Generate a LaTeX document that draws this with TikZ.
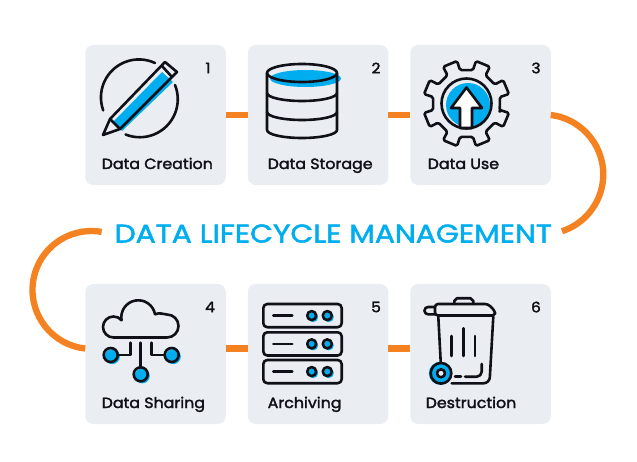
\documentclass[tikz,border=0pt]{standalone}
\usepackage{fontspec}
\setmainfont{Poppins}
\newfontfamily\labelfont[FakeBold=2, FakeStretch=1.07]{Poppins}
\newfontfamily\titlefont[FakeBold=2, FakeStretch=1.165]{Poppins}
\usetikzlibrary{positioning}
\definecolor{dlm-card}{HTML}{EAEEF3}
\definecolor{dlm-orange}{HTML}{F58220}
\definecolor{dlm-blue}{HTML}{00AEEF}
\definecolor{dlm-ink}{HTML}{101018}
\tikzset{
  icon/.style={draw=dlm-ink, line width=2.6pt, line join=round, line cap=round},
  spot/.style={fill=dlm-blue},
  link/.style={draw=dlm-orange, line width=6.3pt},
}

\begin{document}
\begin{tikzpicture}[
  x=1pt, y=1pt, yscale=-1,
  card/.style={fill=dlm-card, rounded corners=8pt, minimum width=140.5pt, minimum height=140pt, inner sep=0pt, outer sep=0pt},
  caption/.style={anchor=base west, inner sep=0pt, text=dlm-ink, font=\fontsize{14.8}{16}\labelfont},
  number/.style={inner sep=0pt, text=dlm-ink, font=\fontsize{14.5}{16}\labelfont},
  title/.style={anchor=base west, inner sep=0pt, text=dlm-blue, font=\fontsize{25.5}{28}\titlefont}
]
\useasboundingbox (0,0) rectangle (637,462);

% Cards
\node[card] (card1) at (155.5,115) {};
\node[card, right=22pt of card1] (card2) {};
\node[card, right=22pt of card2] (card3) {};
\node[card] (card4) at (155.5,354) {};
\node[card, right=22pt of card4] (card5) {};
\node[card, right=22pt of card5] (card6) {};

% Captions
\node[caption] (cap1) at (101.5,169) {Data Creation};
\node[caption] (cap2) at (267.5,169) {Data Storage};
\node[caption] (cap3) at (427.5,169) {Data Use};
\node[caption] (cap4) at (101.5,408) {Data Sharing};
\node[caption] (cap5) at (267.5,408) {Archiving};
\node[caption] (cap6) at (425.5,408) {Destruction};
\node[number] (num1) at (208,68) {1};
\node[number] (num2) at (376,68) {2};
\node[number] (num3) at (536,68) {3};
\node[number] (num4) at (210,307) {4};
\node[number] (num5) at (376,307) {5};
\node[number] (num6) at (536,307) {6};

% Title
\node[title] (title) at (114.5,242.5) {DATA LIFECYCLE MANAGEMENT};

% Links
\coordinate (lowline) at (0,348.5);
\draw[link] (card1) -- (card2);
\draw[link] (card2) -- (card3);
\draw[link] (card4.east |- lowline) -- (card5.west |- lowline);
\draw[link] (card5.east |- lowline) -- (card6.west |- lowline);
\draw[link] (card3.east) arc[start angle=-83, end angle=72, radius=59.8pt];
\draw[link] (card4.west |- lowline) arc[start angle=96, end angle=280, radius=58.9pt];

% Pencil
\fill[spot] (113,122) -- (162,72) -- (173,82) -- (122,131) -- cycle;
\draw[icon] (155,63) arc[start angle=-65, end angle=-200, radius=38pt];
\draw[icon] (175,85) arc[start angle=-22, end angle=112, radius=38pt];
\draw[icon] (110,119) -- (165,62) -- (177,72) -- (120,129) -- (103,135) -- cycle;
\draw[icon] (110,119) -- (120,129);
\draw[icon] (162,66) -- (172,77);

% Database
\fill[spot] (305.5,78.5) ellipse[x radius=35.5pt, y radius=8.5pt];
\draw[icon] (302,73) ellipse[x radius=35pt, y radius=9pt];
\draw[icon] (267,73) -- (267,130) arc[start angle=180, end angle=0, x radius=35pt, y radius=8pt] -- (337,73);
\draw[icon] (267,93) arc[start angle=180, end angle=0, x radius=35pt, y radius=8pt];
\draw[icon] (267,112) arc[start angle=180, end angle=0, x radius=35pt, y radius=8pt];

% Gear
\begin{scope}[shift={(466.5,103.5)}]
\draw[icon, rounded corners=1.6pt] (12:34)
  \foreach \a in {22.5,67.5,...,337.5} {
    -- (\a-11.5:34) -- (\a-10:43.5) -- (\a+10:43.5) -- (\a+11.5:34)
  } -- cycle;
\fill[spot] (1.5,1.5) circle[radius=22pt];
\draw[icon] (0,0) circle[radius=25pt];
\draw[icon, fill=white] (0,-16) -- (15.5,4.5) -- (5.5,4.5) -- (5.5,24.5) -- (-6.5,24.5) -- (-6.5,4.5) -- (-15.5,4.5) -- cycle;
\end{scope}

% Cloud
\draw[icon] (113.5,337.5) arc[start angle=90, end angle=320, radius=10.5pt]
  arc[start angle=170, end angle=350, radius=17pt]
  .. controls (160,312) and (163,314.5) .. (167,314.5)
  arc[start angle=270, end angle=450, radius=11.5pt] -- cycle;
\foreach \px/\py/\nm in {110.7/355/shareA, 171.7/355/shareB, 140.7/374.3/shareC} {
  \fill[spot] (\px+1.6,\py+1.6) circle[radius=7.5pt];
  \draw[icon] (\px,\py) circle[radius=7pt];
  \coordinate (\nm) at (\px,\py);
}
\draw[icon] (130.7,342.7) -- (130.7,355) -- ([xshift=7pt]shareA);
\draw[icon] (151.7,342.7) -- (151.7,355) -- ([xshift=-7pt]shareB);
\draw[icon] (140.7,342.7) -- ([yshift=-7pt]shareC);

% Racks
\foreach \py in {304,332.3,360} {
  \draw[icon, rounded corners=4pt] (263.3,\py) rectangle (341.7,\py+23.2);
  \draw[icon] (273.3,\py+11.6) -- (292.3,\py+11.6);
  \foreach \px in {311.7,327.3} {
    \fill[spot] (\px+1.5,\py+13.1) circle[radius=5pt];
    \draw[icon] (\px,\py+11.6) circle[radius=4.5pt];
  }
}

% Bin
\draw[icon] (454.3,304) -- (454.3,301) -- (457,298.3) -- (470.5,298.3) -- (473.3,301) -- (473.3,304);
\draw[icon, rounded corners=3pt] (435,315.5) -- (435,304) -- (488,304) -- (495,311) -- (495,315.5) -- cycle;
\draw[icon, rounded corners=3.5pt] (435,307) -- (424.5,307) -- (424.5,314.3) -- (435,314.3);
\draw[icon] (438.3,316.7) -- (440.7,361.7);
\draw[icon, rounded corners=6pt] (493.3,316.7) -- (489.5,383.3) -- (451.7,383.3);
\foreach \px/\py in {451.7/336, 463.3/328.3, 475/336} {
  \draw[icon] (\px,\py) -- (\px,356);
}
\draw[icon, rounded corners=5pt] (481.7,364) -- (481.7,376.7) -- (465,376.7);
\draw[icon] (455,376.7) -- (461,376.7);
\fill[spot] (440.3,373.3) circle[radius=11.5pt];
\draw[icon] (441,373.3) circle[radius=10.3pt];
\draw[icon, fill=dlm-card] (441,373.3) circle[radius=4pt];
\end{tikzpicture}
\end{document}
